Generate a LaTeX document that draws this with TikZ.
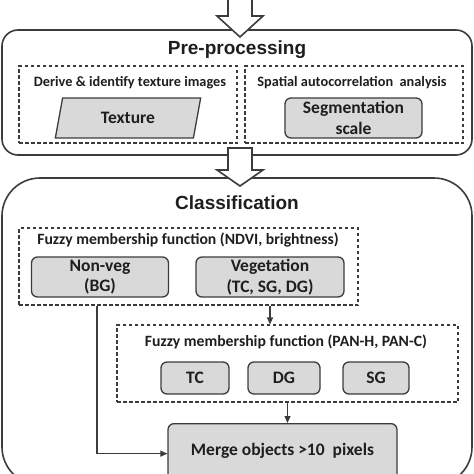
\documentclass[tikz,border=0pt]{standalone}
\usepackage{fontspec}
\setmainfont{Carlito}
\newfontfamily\headfont{Liberation Sans}
\usetikzlibrary{arrows.meta,shapes.geometric}

\definecolor{edgegray}{HTML}{3C3C3C}
\definecolor{boxgray}{HTML}{D9D9D9}
\definecolor{inkgray}{HTML}{1E1E1E}

\begin{document}
\begin{tikzpicture}[
  x=1pt, y=-1pt,
  font=\bfseries, text=inkgray,
  stagebox/.style={draw=edgegray, line width=1.6pt, fill=white},
  groupbox/.style={draw=edgegray, line width=1.1pt, dash pattern=on 3.5pt off 2.5pt,
    inner sep=0pt},
  classbox/.style={draw=edgegray, fill=boxgray, line width=1.3pt, rounded corners=6pt,
    align=center, inner sep=1pt, font=\fontsize{17.5}{20.5}\selectfont\bfseries},
  title/.style={font=\fontsize{19}{22}\selectfont\headfont\bfseries},
  grouplabel/.style={font=\fontsize{14.3}{16}\selectfont\bfseries},
  fuzzylabel/.style={font=\fontsize{15.7}{17}\selectfont\bfseries},
  link/.style={draw=edgegray, line width=1.1pt, -{Triangle[length=7pt,width=6pt]}},
  bigarrow/.style={draw=edgegray, line width=1.6pt, fill=white, line join=miter}
]
  \useasboundingbox (0,0) rectangle (474,474);
  \clip (0,0) rectangle (474,474);

  % stages
  \draw[stagebox, rounded corners=16pt] (2,30) rectangle (472,155);
  \draw[stagebox, rounded corners=38pt] (2,178) rectangle (472,485);

  % top arrow
  \draw[bigarrow] (228,-3) -- (228,16) -- (217,16) -- (240,37) -- (263,16)
    -- (252,16) -- (252,-3);

  % pre-processing
  \node[title] (pre) at (237,50) {Pre-processing};
  \node[groupbox, minimum width=218pt, minimum height=77pt] (texgroup) at (128,104.5) {};
  \node[groupbox, minimum width=218pt, minimum height=77pt] (seggroup) at (354,104.5) {};
  \node[grouplabel] (texlabel) at (130,83) {Derive \& identify texture images};
  \node[grouplabel] (seglabel) at (352,83) {Spatial autocorrelation\ \ analysis};
  \node[classbox, trapezium, trapezium left angle=77, trapezium right angle=103,
    rounded corners=0pt, minimum width=146pt, minimum height=40pt,
    trapezium stretches=true] (texture) at (128,118) {Texture};
  \node[classbox, minimum width=137pt, minimum height=40pt] (segscale) at (353.5,118)
    {Segmentation\\scale};

  % second arrow
  \draw[bigarrow] (228,148) -- (252,148) -- (252,170) -- (263,170) -- (240,186)
    -- (217,170) -- (228,170) -- cycle;

  % classification
  \node[title] (cls) at (237,203) {Classification};
  \node[groupbox, minimum width=339pt, minimum height=77pt] (fuzzyA) at (188.5,266.5) {};
  \node[fuzzylabel] (fuzzyAlabel) at (188,240) {Fuzzy membership function (NDVI, brightness)};
  \node[classbox, minimum width=137pt, minimum height=40pt] (nonveg) at (100,277)
    {Non-veg\\(BG)};
  \node[classbox, minimum width=148pt, minimum height=40pt] (veg) at (270,277)
    {Vegetation\\(TC, SG, DG)};

  \node[groupbox, minimum width=341pt, minimum height=77pt] (fuzzyB) at (287.5,363.5) {};
  \node[fuzzylabel] (fuzzyBlabel) at (286,342) {Fuzzy membership function (PAN-H, PAN-C)};
  \node[classbox, minimum width=68pt, minimum height=32pt] (tc) at (195,378) {TC};
  \node[classbox, minimum width=72pt, minimum height=32pt] (dg) at (284,378) {DG};
  \node[classbox, minimum width=66pt, minimum height=32pt] (sg) at (376,378) {SG};

  \node[classbox, minimum width=229pt, minimum height=56pt, anchor=north] (merge)
    at (282.5,423) {\raisebox{5pt}{Merge objects >10\ \ pixels}};

  % connectors
  \draw[link] (veg.south |- fuzzyA.south) -- (veg.south |- fuzzyB.north);
  \draw[link] (fuzzyB.south) -- (fuzzyB.south |- merge.north);
  \draw[link, -] ([xshift=-3pt]nonveg.south |- fuzzyA.south) |- ([yshift=-2pt]merge.west);
  \draw[link] ([yshift=-2pt]merge.west) ++(-40pt,0) -- ([yshift=-2pt]merge.west);
\end{tikzpicture}
\end{document}
